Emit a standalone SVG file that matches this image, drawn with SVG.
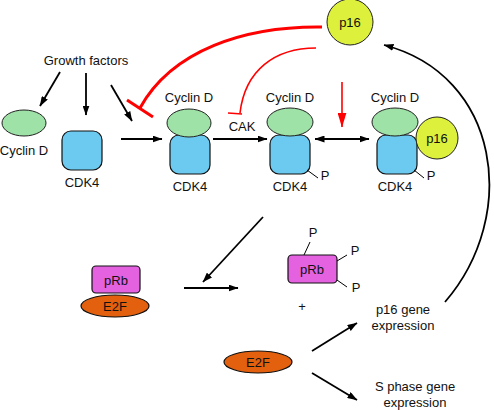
<svg xmlns="http://www.w3.org/2000/svg" width="494" height="410" viewBox="0 0 494 410">
<style>
text{font-family:"Liberation Sans",Arial,sans-serif;font-size:13px;fill:#111;text-anchor:middle}
.cyc{fill:#9ee2a8;stroke:#222;stroke-width:1}
.cdk{fill:#6ccaf0;stroke:#111;stroke-width:1.2}
.p16{fill:#dcf03c;stroke:#222;stroke-width:1}
.prb{fill:#e462e0;stroke:#111;stroke-width:1.2}
.e2f{fill:#e2600e;stroke:#111;stroke-width:1.2}
.blk{fill:none;stroke:#000;stroke-width:1.8}
.thin{fill:none;stroke:#000;stroke-width:1}
.red{fill:none;stroke:#f00;stroke-width:3}
.red2{fill:none;stroke:#f00;stroke-width:1.6}
</style>
<defs>
<marker id="ah" viewBox="0 0 10 7" refX="9.5" refY="3.5" markerWidth="10" markerHeight="7" orient="auto-start-reverse" markerUnits="userSpaceOnUse"><path d="M0,0 L10,3.5 L0,7 z" fill="#000"/></marker>
<marker id="ahr" viewBox="0 0 15 9" refX="14.5" refY="4.5" markerWidth="15" markerHeight="9" orient="auto" markerUnits="userSpaceOnUse"><path d="M0,0 L15,4.5 L0,9 z" fill="#f00"/></marker>
</defs>
<g id="connectors">
<line class="blk" x1="60" y1="72" x2="40" y2="106" marker-end="url(#ah)"/>
<line class="blk" x1="86" y1="73" x2="86" y2="115" marker-end="url(#ah)"/>
<line class="blk" x1="111" y1="85" x2="132" y2="121" marker-end="url(#ah)"/>
<line class="blk" x1="121" y1="139" x2="162" y2="139" marker-end="url(#ah)"/>
<line class="blk" x1="213" y1="139" x2="267" y2="139" marker-end="url(#ah)"/>
<line class="blk" x1="315" y1="139" x2="369" y2="139" marker-start="url(#ah)" marker-end="url(#ah)"/>
<path class="red" d="M322,27 C245,26 172,50 140,108"/>
<line class="red" x1="127" y1="100" x2="153" y2="117"/>
<path class="red2" d="M316,48 C275,48 245,70 240,113"/>
<line class="red2" x1="228" y1="113" x2="242" y2="114"/>
<line class="red2" x1="342" y1="82" x2="342" y2="127" marker-end="url(#ahr)"/>
<path class="blk" d="M445,302 C520,215 500,75 384,45" marker-end="url(#ah)"/>
<line class="blk" x1="263" y1="217" x2="203" y2="282" marker-end="url(#ah)"/>
<line class="blk" x1="184" y1="288" x2="238" y2="288" marker-end="url(#ah)"/>
<line class="blk" x1="312" y1="351" x2="357" y2="323" marker-end="url(#ah)"/>
<line class="blk" x1="312" y1="373" x2="357" y2="400" marker-end="url(#ah)"/>
</g>
<g id="growth-factors"><text x="86" y="65">Growth factors</text></g>
<g id="cyclinD-free">
<ellipse class="cyc" cx="24" cy="123" rx="22" ry="13"/>
<text x="24" y="155">Cyclin D</text>
</g>
<g id="cdk4-free">
<rect class="cdk" x="62" y="131" width="40" height="39" rx="9"/>
<text x="82" y="187">CDK4</text>
</g>
<g id="complex1">
<text x="189" y="102">Cyclin D</text>
<rect class="cdk" x="170" y="135" width="40" height="39" rx="9"/>
<ellipse class="cyc" cx="189" cy="123" rx="22" ry="14"/>
<text x="190" y="191">CDK4</text>
</g>
<g id="cak"><text x="242" y="131">CAK</text></g>
<g id="complex2">
<text x="290" y="102">Cyclin D</text>
<rect class="cdk" x="270" y="135" width="40" height="39" rx="9"/>
<ellipse class="cyc" cx="290" cy="122" rx="23" ry="14"/>
<line class="thin" x1="307" y1="170" x2="318" y2="178"/>
<text x="325" y="180">P</text>
<text x="290" y="191">CDK4</text>
</g>
<g id="complex3">
<text x="395" y="102">Cyclin D</text>
<rect class="cdk" x="377" y="135" width="40" height="39" rx="9"/>
<ellipse class="cyc" cx="395" cy="122" rx="23" ry="14"/>
<circle class="p16" cx="437" cy="138" r="21"/>
<text x="437" y="143">p16</text>
<line class="thin" x1="414" y1="170" x2="424" y2="178"/>
<text x="431" y="180">P</text>
<text x="395" y="191">CDK4</text>
</g>
<g id="p16-top">
<circle class="p16" cx="350" cy="22" r="23"/>
<text x="350" y="27">p16</text>
</g>
<g id="prb-e2f">
<rect class="prb" x="92" y="266" width="48" height="27" rx="4"/>
<text x="116" y="285">pRb</text>
<ellipse class="e2f" cx="115" cy="306" rx="34" ry="11"/>
<text x="115" y="311">E2F</text>
</g>
<g id="prb-p">
<rect class="prb" x="288" y="255" width="49" height="28" rx="4"/>
<text x="312" y="274">pRb</text>
<line class="thin" x1="304" y1="255" x2="310" y2="242"/>
<text x="313" y="237">P</text>
<line class="thin" x1="337" y1="261" x2="347" y2="255"/>
<text x="355" y="255">P</text>
<line class="thin" x1="337" y1="280" x2="347" y2="287"/>
<text x="356" y="292">P</text>
</g>
<g id="plus"><text x="302" y="311">+</text></g>
<g id="e2f-free">
<ellipse class="e2f" cx="258" cy="362" rx="34" ry="11"/>
<text x="258" y="367">E2F</text>
</g>
<g id="p16-gene"><text x="403" y="314">p16 gene</text><text x="403" y="330">expression</text></g>
<g id="s-phase"><text x="415" y="391">S phase gene</text><text x="415" y="407">expression</text></g>
</svg>
